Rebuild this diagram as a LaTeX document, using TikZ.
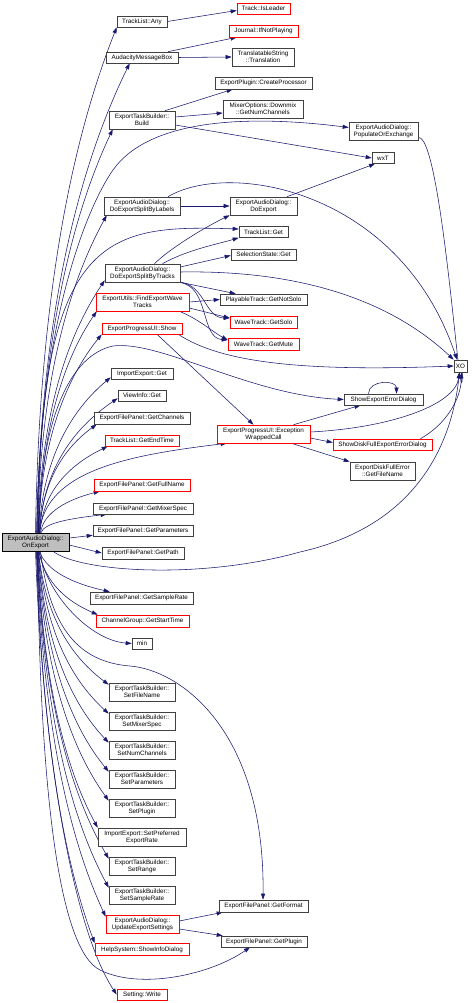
\documentclass[tikz,border=0pt]{standalone}
\usepackage{fontspec}
\setmainfont{Liberation Sans}
\usetikzlibrary{arrows.meta}
\definecolor{navy}{HTML}{191970}
\definecolor{boxgray}{HTML}{404040}
\definecolor{boxred}{HTML}{FF0000}
\definecolor{fillgray}{HTML}{BFBFBF}
\pgfdeclarelayer{bgfill}
\pgfdeclarelayer{edges}
\pgfsetlayers{bgfill,edges,main}
\tikzset{
  bx/.style={draw=boxgray, line width=0.6pt, fill=white, inner sep=0.5pt, align=center,
    font=\fontsize{6.3}{7}\selectfont, text=black},
  rbx/.style={bx, draw=boxred},
  gbx/.style={bx, draw=black, fill=fillgray},
  conn/.style={draw=navy, line width=0.55pt, -{Triangle[length=6pt,width=4pt]}},
}
\begin{document}
\begin{tikzpicture}[x=1pt,y=-1pt]
\begin{pgfonlayer}{bgfill}
\fill[white] (0,0) rectangle (474,1003);
\end{pgfonlayer}
\useasboundingbox (0,0) rectangle (474,1003);

% nodes
\node[bx]  (tla) at (142,21.5)  [minimum width=50pt, minimum height=11pt] {TrackList::Any};
\node[rbx] (til) at (263.5,8.5) [minimum width=53pt, minimum height=11pt] {Track::IsLeader};
\node[rbx] (jin) at (263.5,31)  [minimum width=69pt, minimum height=12pt] {Journal::IfNotPlaying};
\node[bx]  (amb) at (142,57.5)  [minimum width=72pt, minimum height=11pt] {AudacityMessageBox};
\node[bx]  (tst) at (263,57)    [minimum width=62pt, minimum height=18pt] {TranslatableString\\::Translation};
\node[bx]  (epc) at (263.5,83)  [minimum width=97pt, minimum height=12pt] {ExportPlugin::CreateProcessor};
\node[bx]  (mgn) at (263,109)   [minimum width=80pt, minimum height=18pt] {MixerOptions::Downmix\\::GetNumChannels};
\node[bx]  (bld) at (142,120)   [minimum width=66pt, minimum height=18pt] {ExportTaskBuilder::\\Build};
\node[bx]  (poe) at (383.5,131.5) [minimum width=69pt, minimum height=18pt] {ExportAudioDialog::\\PopulateOrExchange};
\node[bx]  (wxt) at (383,158)   [minimum width=22pt, minimum height=11pt] {wxT};
\node[bx]  (dsl) at (142,206)   [minimum width=76pt, minimum height=18pt] {ExportAudioDialog::\\DoExportSplitByLabels};
\node[bx]  (dex) at (263.5,206) [minimum width=67pt, minimum height=18pt] {ExportAudioDialog::\\DoExport};
\node[bx]  (tlg) at (263.5,232) [minimum width=49pt, minimum height=11pt] {TrackList::Get};
\node[bx]  (ssg) at (263.5,254.5) [minimum width=65pt, minimum height=11pt] {SelectionState::Get};
\node[bx]  (dst) at (142.5,273) [minimum width=75pt, minimum height=18pt] {ExportAudioDialog::\\DoExportSplitByTracks};
\node[rbx] (few) at (142.5,302) [minimum width=93pt, minimum height=18pt] {ExportUtils::FindExportWave\\Tracks};
\node[bx]  (gns) at (263.5,299.5) [minimum width=87pt, minimum height=11pt] {PlayableTrack::GetNotSolo};
\node[rbx] (gso) at (263.5,322) [minimum width=67pt, minimum height=12pt] {WaveTrack::GetSolo};
\node[rbx] (shw) at (142,328.5) [minimum width=80pt, minimum height=11pt] {ExportProgressUI::Show};
\node[rbx] (gmu) at (263.5,344) [minimum width=71pt, minimum height=12pt] {WaveTrack::GetMute};
\node[bx]  (xo)  at (460.5,366) [minimum width=13pt, minimum height=12pt] {XO};
\node[bx]  (ieg) at (142,373.5) [minimum width=62pt, minimum height=11pt] {ImportExport::Get};
\node[bx]  (vig) at (142,395.5) [minimum width=48pt, minimum height=11pt] {ViewInfo::Get};
\node[bx]  (sed) at (383.5,399.5) [minimum width=79pt, minimum height=11pt] {ShowExportErrorDialog};
\node[bx]  (gch) at (142,418)   [minimum width=96pt, minimum height=12pt] {ExportFilePanel::GetChannels};
\node[rbx] (ewc) at (263.5,434) [minimum width=93pt, minimum height=18pt] {ExportProgressUI::Exception\\WrappedCall};
\node[rbx] (get) at (142,440.5) [minimum width=74pt, minimum height=11pt] {TrackList::GetEndTime};
\node[rbx] (sdf) at (382.5,444.5) [minimum width=99pt, minimum height=11pt] {ShowDiskFullExportErrorDialog};
\node[bx]  (dfn) at (382.5,471) [minimum width=65pt, minimum height=18pt] {ExportDiskFullError\\::GetFileName};
\node[rbx] (gfn) at (142,485)   [minimum width=96pt, minimum height=12pt] {ExportFilePanel::GetFullName};
\node[bx]  (gms) at (143,508.5) [minimum width=100pt, minimum height=11pt] {ExportFilePanel::GetMixerSpec};
\node[gbx] (oe)  at (35.5,542)  [minimum width=67pt, minimum height=18pt] {ExportAudioDialog::\\OnExport};
\node[bx]  (gpa) at (143,530.5) [minimum width=100pt, minimum height=11pt] {ExportFilePanel::GetParameters};
\node[bx]  (gpt) at (143,553)   [minimum width=82pt, minimum height=12pt] {ExportFilePanel::GetPath};
\node[bx]  (gsr) at (141.5,598) [minimum width=103pt, minimum height=12pt] {ExportFilePanel::GetSampleRate};
\node[rbx] (gst) at (142.5,621) [minimum width=93pt, minimum height=12pt] {ChannelGroup::GetStartTime};
\node[bx]  (mn)  at (142,643.5) [minimum width=20pt, minimum height=11pt] {min};
\node[bx]  (sfn) at (142,692)   [minimum width=66pt, minimum height=18pt] {ExportTaskBuilder::\\SetFileName};
\node[bx]  (smx) at (142,721)   [minimum width=66pt, minimum height=18pt] {ExportTaskBuilder::\\SetMixerSpec};
\node[bx]  (snc) at (142,750)   [minimum width=66pt, minimum height=18pt] {ExportTaskBuilder::\\SetNumChannels};
\node[bx]  (spa) at (142,779)   [minimum width=66pt, minimum height=18pt] {ExportTaskBuilder::\\SetParameters};
\node[bx]  (spl) at (142,808)   [minimum width=66pt, minimum height=18pt] {ExportTaskBuilder::\\SetPlugin};
\node[bx]  (spr) at (142,837)   [minimum width=88pt, minimum height=18pt] {ImportExport::SetPreferred\\ExportRate};
\node[bx]  (srg) at (142,866)   [minimum width=66pt, minimum height=18pt] {ExportTaskBuilder::\\SetRange};
\node[bx]  (ssr) at (142,895)   [minimum width=66pt, minimum height=18pt] {ExportTaskBuilder::\\SetSampleRate};
\node[bx]  (gfo) at (263.5,906) [minimum width=89pt, minimum height=12pt] {ExportFilePanel::GetFormat};
\node[rbx] (ues) at (142.5,924) [minimum width=73pt, minimum height=18pt] {ExportAudioDialog::\\UpdateExportSettings};
\node[bx]  (gpl) at (264,941.5) [minimum width=86pt, minimum height=11pt] {ExportFilePanel::GetPlugin};
\node[rbx] (hsd) at (142,949.5) [minimum width=94pt, minimum height=12pt] {HelpSystem::ShowInfoDialog};
\node[rbx] (swr) at (142,994.5) [minimum width=50pt, minimum height=11pt] {Setting::Write};

\begin{pgfonlayer}{edges}
% OnExport -> upper targets
\draw[conn] ([xshift=0pt]oe.north) .. controls +(4,-253) and +(-40,101) .. (tla.south west);
\draw[conn] ([xshift=1pt]oe.north) .. controls +(5,-235) and +(-46,94) .. ([xshift=24pt]amb.south west);
\draw[conn] ([xshift=1.5pt]oe.north) .. controls +(4,-202) and +(-38,81) .. ([xshift=4pt]bld.south west);
\draw[conn] ([xshift=1.5pt]oe.north) .. controls (38,330) and (85,210) .. (113,170) .. controls (150,118) and (250,115) .. ([yshift=4pt]poe.west);
\draw[conn] ([xshift=2pt]oe.north) .. controls +(3,-159) and +(-35,64) .. ([xshift=3pt]dsl.south west);
\draw[conn] ([xshift=3pt]oe.north) .. controls (38,230) and (110,225) .. ([yshift=3pt]tlg.west);
\draw[conn] ([xshift=2.5pt]oe.north) .. controls +(3,-127) and +(-34,51) .. ([yshift=2pt]dst.south west);
\draw[conn] ([xshift=3pt]oe.north) .. controls +(3,-111) and +(-30,44) .. ([xshift=1pt]few.south west);
\draw[conn] ([xshift=3pt]oe.north) .. controls +(3,-100) and +(-32,40) .. (shw.south west);
\draw[conn] ([xshift=3.5pt]oe.north) .. controls (40,420) and (70,355) .. (113,346) .. controls (160,340) and (250,395) .. (sed.west);
\draw[conn] ([xshift=3.5pt]oe.north) .. controls +(4,-78) and +(-37,31) .. ([yshift=2pt]ieg.south west);
\draw[conn] ([xshift=4pt]oe.north) .. controls +(4,-68) and +(-40,27) .. ([yshift=3pt]vig.south west);
\draw[conn] ([xshift=4pt]oe.north) .. controls +(3,-55) and +(-30,22) .. ([xshift=3pt]gch.south west);
\draw[conn] ([xshift=4.5pt]oe.north) .. controls +(3,-44) and +(-35,17) .. ([xshift=3pt]get.south west);
\draw[conn] ([xshift=4pt]oe.north) .. controls (45,470) and (130,455) .. ([xshift=10pt]ewc.south west);
\draw[conn] ([xshift=5pt]oe.north) .. controls +(3,-21) and +(-31,8) .. ([xshift=6pt]gfn.south west);
\draw[conn] ([xshift=5.5pt]oe.north) .. controls +(3,-10) and +(-35,4) .. ([xshift=14pt]gms.south west);
\draw[conn] ([yshift=4pt]oe.east) -- ([yshift=1pt]gpa.south west);
\draw[conn] ([yshift=-3pt]oe.east) -- (gpt.west);
\draw[conn] ([xshift=17.5pt]oe.south) .. controls (80,572) and (200,580) .. (300,552) .. controls (420,525) and (452,440) .. ([xshift=-1pt]xo.south);

% OnExport -> lower targets
\draw[conn] ([xshift=4pt]oe.south) .. controls +(7,20) and +(-36,-8) .. ([xshift=20pt]gsr.north west);
\draw[conn] ([xshift=3.5pt]oe.south) .. controls +(6,32) and +(-30,-13) .. ([xshift=2pt]gst.north west);
\draw[conn] ([xshift=3.5pt]oe.south) .. controls +(9,46) and +(-40,-3) .. (mn.west);
\draw[conn] ([xshift=5pt]oe.south) .. controls (50,630) and (80,662) .. (130,666) .. controls (180,670) and (265,730) .. ([xshift=-0.5pt]gfo.north);
\draw[conn] ([xshift=3pt]oe.south) .. controls +(7,68) and +(-36,-27) .. ([yshift=-2pt]sfn.north west);
\draw[conn] ([xshift=3pt]oe.south) .. controls +(7,82) and +(-36,-33) .. ([yshift=-2pt]smx.north west);
\draw[conn] ([xshift=2.5pt]oe.south) .. controls +(7,96) and +(-36,-38) .. ([yshift=-2pt]snc.north west);
\draw[conn] ([xshift=2.5pt]oe.south) .. controls +(7,110) and +(-36,-44) .. ([yshift=-2pt]spa.north west);
\draw[conn] ([xshift=2pt]oe.south) .. controls +(7,125) and +(-36,-50) .. ([yshift=-2pt]spl.north west);
\draw[conn] ([xshift=2pt]oe.south) .. controls +(6,138) and +(-30,-55) .. (spr.north west);
\draw[conn] ([xshift=1.5pt]oe.south) .. controls +(7,154) and +(-36,-62) .. ([yshift=-2pt]srg.north west);
\draw[conn] ([xshift=1.5pt]oe.south) .. controls +(7,168) and +(-36,-67) .. ([yshift=-2pt]ssr.north west);
\draw[conn] ([xshift=1pt]oe.south) .. controls +(7,183) and +(-34,-73) .. ([yshift=-2pt]ues.north west);
\draw[conn] ([xshift=1pt]oe.south) .. controls +(6,196) and +(-29,-78) .. (hsd.north west);
\draw[conn] ([xshift=2pt]oe.south) .. controls (40,800) and (60,950) .. (100,970) .. controls (140,990) and (210,975) .. ([xshift=-14pt]gpl.south);
\draw[conn] ([xshift=0pt]oe.south) .. controls +(8,221) and +(-40,-60) .. (swr.west);

% other calls
\draw[conn] (tla.east) -- ([yshift=-2pt]til.west);
\draw[conn] ([xshift=26pt]amb.north) -- ([xshift=8pt]jin.south west);
\draw[conn] (amb.east) -- (tst.west);
\draw[conn] ([xshift=23pt]bld.north) -- ([xshift=18pt]epc.south west);
\draw[conn] ([yshift=3pt]bld.east) -- ([yshift=-4pt]mgn.west);
\draw[conn] ([yshift=-5pt]bld.east) -- (wxt.west);
\draw[conn] ([xshift=23.5pt]dex.north) -- ([xshift=-8pt]wxt.south);
\draw[conn] ([yshift=-6pt]poe.east) .. controls +(25,-3) and +(0,100) .. ([xshift=2pt]xo.north);
\draw[conn] (dsl.east) -- (dex.west);
\draw[conn] ([xshift=26pt]dsl.north) .. controls (230,160) and (400,190) .. ([xshift=-3.5pt]xo.north);
\draw[conn] ([xshift=12pt]dst.north) .. controls +(15,-15) and +(-25,12) .. (dex.south west);
\draw[conn] ([xshift=20pt]dst.north) .. controls +(25,-14) and +(-20,6) .. (tlg.south west);
\draw[conn] ([yshift=6pt]dst.east) -- ([yshift=-1pt]ssg.west);
\draw[conn] ([yshift=1pt]dst.east) .. controls (300,270) and (390,300) .. (xo.north west);
\draw[conn] (dst.south east) -- ([xshift=16pt]gns.north west);
\draw[conn] (dst.south east) .. controls (205,285) and (205,318) .. ([yshift=4pt]gso.west);
\draw[conn] ([xshift=-2pt]dst.south east) .. controls (210,285) and (200,338) .. ([yshift=4pt]gmu.west);
\draw[conn] (few.east) -- (gns.west);
\draw[conn] ([yshift=-6pt]few.east) -- ([yshift=4pt]gso.west);
\draw[conn] ([xshift=-10pt]few.south east) .. controls +(20,8) and +(-15,-8) .. ([yshift=4pt]gmu.west);
\draw[conn] ([xshift=-4pt]shw.south east) .. controls (220,362) and (300,372) .. (xo.west);
\draw[conn] ([xshift=15pt]shw.south) -- ([xshift=-10pt]ewc.north);
\draw[conn] ([xshift=30pt]ewc.north) -- ([xshift=-23pt]sed.south);
\draw[conn] ([yshift=2pt]ewc.east) .. controls (390,428) and (455,405) .. ([xshift=-1pt]xo.south);
\draw[conn] ([yshift=-4pt]ewc.east) -- ([yshift=2pt]sdf.west);
\draw[conn] ([xshift=28pt]ewc.south) -- (dfn.north west);
\draw[conn] ([xshift=38pt]sdf.north) .. controls (445,425) and (461,400) .. ([xshift=1pt]xo.south);
\draw[conn] ([xshift=-15pt]sed.north) .. controls +(0,-14) and +(0,-14) .. ([xshift=13pt]sed.north);
\draw[conn] ([yshift=3pt]ues.east) -- ([xshift=4pt]gfo.south west);
\draw[conn] ([yshift=-5pt]ues.east) -- ([xshift=2pt]gpl.north west);
\end{pgfonlayer}
\end{tikzpicture}
\end{document}
